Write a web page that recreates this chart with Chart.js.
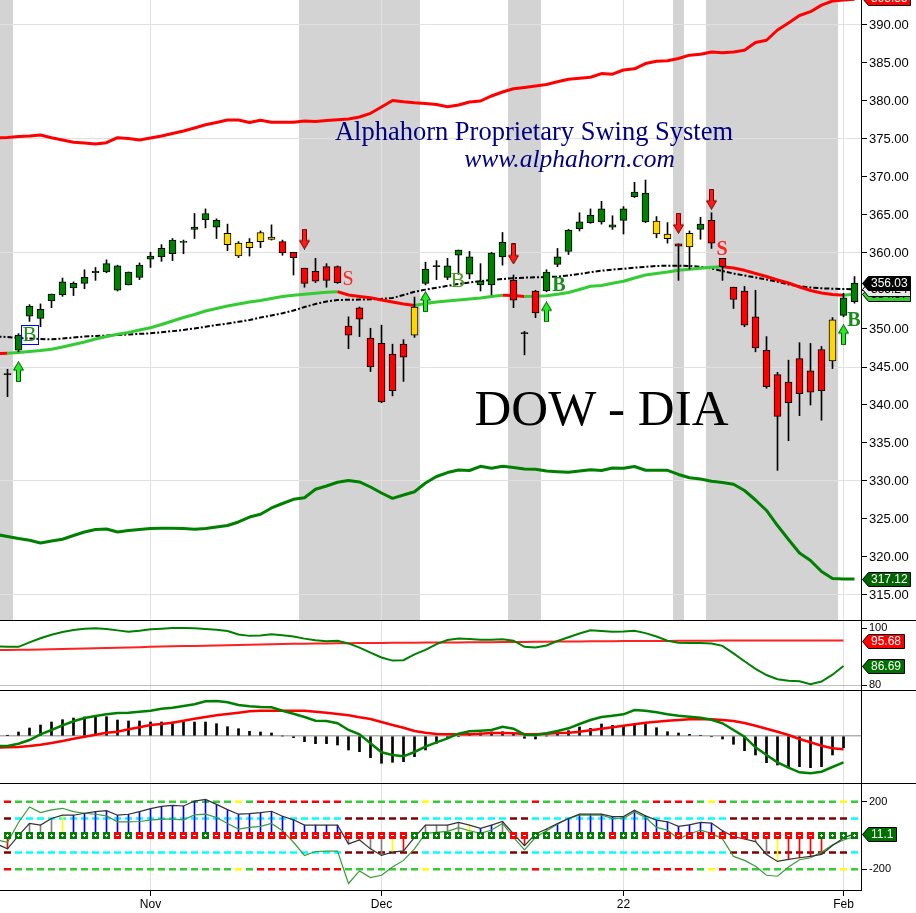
<!DOCTYPE html>
<html><head><meta charset="utf-8">
<script src="https://cdn.jsdelivr.net/npm/chart.js@4.4.1/dist/chart.umd.min.js"></script>
<style>
html,body{margin:0;padding:0;background:#fff;}
#wrap{position:relative;width:916px;height:913px;overflow:hidden;background:#fff;}
#wrap canvas{position:absolute;left:0;}
.txt{position:absolute;white-space:nowrap;text-align:center;width:600px;font-family:"Liberation Serif","Times New Roman",serif;pointer-events:none;z-index:5;}
</style></head><body>
<div id="wrap">
<canvas id="c1" width="916" height="621" style="top:0;width:916px;height:621px"></canvas>
<canvas id="c2" width="916" height="70" style="top:621px;width:916px;height:70px"></canvas>
<canvas id="c3" width="916" height="93" style="top:691px;width:916px;height:93px"></canvas>
<canvas id="c4" width="916" height="129" style="top:784px;width:916px;height:129px"></canvas>
<div class="txt" style="left:234px;top:116px;font-size:26.5px;line-height:30px;color:#000080;">Alphahorn Proprietary Swing System</div>
<div class="txt" style="left:269.5px;top:144.4px;font-size:25.5px;line-height:30px;font-style:italic;color:#000080;">www.alphahorn.com</div>
<div class="txt" style="left:301.5px;top:377.8px;font-size:51px;line-height:60px;color:#000;">DOW - DIA</div>
</div>
<script>
// ---------- DATA (index 0 = one trading day before Oct 13, 2021; index 78 = Feb 2, 2022) ----------
const FIRST_DAY = -1;
const tickDays = [13, 34, 56, 76];
const tickLabels = ['Nov', 'Dec', '22', 'Feb'];

const open = [null, 344.0, 347.2, 351.7, 352.6, 353.7, 354.5, 355.4, 356.0, 357.4, 358.6, 358.3, 355.8, 356.8, 359.2, 359.5, 359.9, 361.4, 363.1, 365.2, 364.3, 362.6, 361.3, 360.7, 361.5, 362.1, 361.5, 360.1, 358.0, 357.6, 358.2, 358.2, 350.4, 352.8, 348.8, 348.1, 346.7, 348.0, 349.2, 356.0, 358.2, 356.8, 359.7, 359.5, 355.8, 355.8, 361.4, 356.4, 349.4, 355.0, 357.5, 358.5, 360.2, 363.2, 364.0, 365.8, 363.7, 364.3, 367.4, 367.9, 364.2, 361.9, 361.2, 360.8, 363.8, 364.3, 359.3, 355.5, 355.0, 351.6, 347.2, 344.0, 343.0, 346.1, 344.5, 341.9, 345.8, 351.8, 353.6];
const high = [null, 344.7, 349.4, 353.2, 353.3, 354.6, 356.7, 356.2, 357.8, 358.1, 359.1, 358.4, 357.5, 358.7, 360.1, 361.1, 361.9, 361.7, 365.2, 365.8, 364.5, 363.8, 361.5, 361.9, 362.9, 363.7, 361.7, 360.1, 358.0, 359.3, 358.6, 358.3, 351.6, 352.9, 350.1, 350.5, 348.0, 348.6, 354.2, 358.8, 359.0, 359.3, 360.4, 360.2, 358.6, 360.1, 362.7, 357.1, 349.7, 355.1, 357.8, 360.6, 363.1, 365.3, 365.8, 366.8, 364.9, 366.1, 369.3, 369.6, 364.8, 364.0, 361.2, 362.9, 364.7, 365.3, 359.3, 355.5, 355.6, 355.1, 349.0, 344.3, 345.9, 348.2, 348.1, 347.7, 351.5, 354.7, 356.9];
const low = [null, 341.1, 347.0, 351.0, 350.3, 352.8, 354.3, 354.4, 355.3, 356.4, 357.4, 355.0, 355.8, 356.5, 358.1, 358.9, 359.0, 359.9, 361.9, 363.3, 361.9, 360.3, 359.4, 359.6, 360.7, 361.7, 359.7, 357.1, 355.5, 356.1, 355.5, 356.0, 347.4, 349.0, 344.4, 340.3, 341.2, 343.1, 348.9, 355.8, 356.5, 356.5, 357.2, 356.6, 355.0, 354.5, 358.4, 352.8, 346.6, 351.5, 354.9, 358.2, 359.8, 362.9, 363.9, 363.8, 363.1, 362.5, 367.3, 364.0, 362.0, 361.3, 356.4, 357.9, 361.8, 360.6, 356.4, 352.7, 350.3, 347.0, 342.2, 331.4, 335.3, 338.6, 340.0, 338.0, 344.8, 351.6, 353.4];
const close = [null, 344.1, 349.2, 353.0, 351.4, 354.6, 356.2, 356.0, 356.8, 357.6, 357.5, 355.1, 357.5, 358.4, 359.6, 360.6, 361.7, 361.5, 363.4, 364.4, 363.4, 361.1, 359.6, 361.4, 362.7, 361.8, 360.0, 359.4, 356.0, 356.3, 356.4, 356.1, 349.2, 351.3, 345.0, 340.4, 341.9, 346.3, 352.9, 357.9, 358.25, 358.3, 360.4, 357.2, 356.3, 360.0, 359.5, 353.8, 349.5, 352.1, 355.0, 359.5, 363.0, 364.1, 365.0, 364.1, 363.4, 365.8, 368.0, 364.1, 362.5, 362.5, 360.9, 362.6, 363.1, 361.3, 358.2, 353.9, 350.5, 347.5, 342.4, 338.5, 340.3, 341.5, 341.7, 347.3, 351.2, 354.1, 356.03];
// candle state: K black, G green, Y yellow, R red
const candleState = "-K" + "GGGGGGGGGGGGGGGGGGG" + "YYYYY" + "RRRRRRRRRRRR" + "YGK" + "GGGGGG" + "RKR" + "GGGGGGGGGG" + "YYRYG" + "RRRRRRRRRRR" + "YGG";
// grey background days
const shade = "11" + "00000000000000000000000000" + "11111111111" + "00000000" + "111" + "000000000000" + "1" + "00" + "111111111111" + "00";

const upperBand = [375.15, 375.20, 375.33, 375.39, 375.53, 375.16, 374.87, 374.57, 374.47, 374.34, 374.51, 375.17, 375.07, 374.87, 375.13, 375.39, 375.72, 376.05, 376.45, 376.87, 377.17, 377.50, 377.50, 377.17, 377.46, 377.20, 377.20, 377.20, 377.37, 377.30, 377.43, 377.54, 377.63, 377.89, 378.38, 379.21, 380.07, 379.89, 379.76, 379.67, 379.54, 379.25, 379.47, 379.87, 380.00, 380.66, 381.18, 381.61, 381.78, 381.97, 382.17, 382.53, 382.86, 382.99, 383.12, 383.61, 383.53, 384.08, 384.24, 384.93, 385.24, 385.30, 385.59, 386.03, 386.14, 386.45, 386.34, 386.45, 386.68, 387.70, 387.99, 389.34, 390.26, 391.25, 391.75, 392.61, 393.16, 393.30, 393.40];
const lowerBand = [322.96, 322.70, 322.43, 322.20, 321.84, 322.11, 322.33, 322.83, 323.29, 323.62, 323.68, 323.29, 323.49, 323.62, 323.75, 323.78, 323.78, 323.75, 323.66, 323.75, 323.95, 324.14, 324.61, 325.26, 325.63, 326.45, 327.04, 327.59, 327.80, 328.91, 329.34, 329.83, 330.07, 329.87, 329.21, 328.42, 327.72, 328.16, 328.59, 329.74, 330.59, 331.11, 331.45, 331.38, 331.93, 331.67, 331.93, 331.78, 331.58, 331.55, 331.32, 331.22, 331.14, 331.32, 331.49, 331.38, 331.71, 331.68, 331.91, 331.41, 331.41, 331.40, 330.86, 330.42, 330.26, 329.96, 329.80, 329.58, 328.75, 327.50, 326.12, 324.14, 322.30, 320.53, 319.54, 318.09, 317.17, 317.11, 317.12];
const midAvg = [346.78, 346.80, 346.91, 347.04, 347.17, 347.34, 347.63, 347.96, 348.29, 348.68, 349.01, 349.30, 349.54, 349.87, 350.17, 350.59, 351.05, 351.51, 351.91, 352.37, 352.70, 353.03, 353.29, 353.55, 353.75, 354.01, 354.28, 354.43, 354.57, 354.70, 354.83, 354.91, 354.47, 354.28, 354.12, 353.82, 353.55, 353.29, 353.09, 353.36, 353.55, 353.68, 353.82, 353.95, 354.08, 354.28, 354.43, 354.41, 354.28, 354.30, 354.38, 354.57, 354.80, 355.20, 355.62, 355.72, 356.01, 356.28, 356.71, 357.11, 357.30, 357.50, 357.72, 357.86, 357.99, 358.12, 358.20, 358.03, 357.72, 357.30, 356.91, 356.45, 356.05, 355.53, 355.07, 354.74, 354.54, 354.43, 354.57];
const maState = "R" + "GGGGGGGGGGGGGGGGGGGGGGGGGGGGGG" + "RRRRRRR" + "GGGGGGGG" + "RR" + "GGGGGGGGGGGGGGGGGG" + "RRRRRRRRRRR" + "GG";
const slowAvg = [349.01, 348.95, 348.82, 348.75, 348.68, 348.64, 348.75, 348.88, 349.00, 349.08, 349.14, 349.21, 349.29, 349.36, 349.43, 349.58, 349.72, 349.87, 350.07, 350.29, 350.53, 350.72, 350.95, 351.18, 351.51, 351.78, 352.07, 352.43, 352.89, 353.29, 353.62, 353.82, 353.84, 353.87, 353.91, 353.97, 354.08, 354.47, 354.89, 355.18, 355.43, 355.68, 355.92, 356.12, 356.29, 356.45, 356.58, 356.68, 356.76, 356.80, 356.84, 356.88, 357.04, 357.24, 357.47, 357.67, 357.82, 357.93, 358.07, 358.18, 358.29, 358.33, 358.32, 358.29, 358.18, 357.96, 357.63, 357.30, 357.04, 356.78, 356.51, 356.21, 355.86, 355.62, 355.46, 355.36, 355.30, 355.26, 355.24];

const buySignals = [{day: 1, price: 344.38}, {day: 38, price: 353.59}, {day: 49, price: 352.24}, {day: 76, price: 349.25}];
const sellSignals = [{day: 27, price: 361.84}, {day: 46, price: 359.87}, {day: 61, price: 363.91}, {day: 64, price: 367.08}];
const signalLetters = [
  {day: 2.0, price: 349.34, text: 'B'}, {day: 30.95, price: 356.64, text: 'S'},
  {day: 40.95, price: 356.45, text: 'B'}, {day: 50.14, price: 355.86, text: 'B'},
  {day: 64.95, price: 360.66, text: 'S'}, {day: 76.95, price: 351.32, text: 'B'}];

// panel 2
const oscFast = [93.58, 93.46, 93.46, 95.03, 96.49, 97.70, 98.67, 99.39, 99.88, 100.0, 99.76, 99.27, 98.79, 99.15, 99.64, 99.88, 100.12, 100.12, 100.0, 99.76, 99.52, 99.03, 97.82, 97.33, 97.45, 97.94, 97.58, 97.09, 96.36, 95.76, 95.39, 95.64, 94.67, 93.21, 91.39, 89.70, 88.61, 88.73, 90.79, 92.36, 94.42, 95.88, 96.36, 96.24, 96.0, 96.0, 96.12, 95.64, 93.46, 93.21, 93.94, 95.52, 96.85, 98.18, 99.27, 99.03, 98.79, 98.91, 99.15, 98.30, 97.09, 95.64, 94.91, 94.79, 94.79, 94.67, 93.82, 91.15, 88.36, 85.70, 83.52, 82.06, 81.46, 81.33, 80.24, 81.21, 83.64, 86.69, null];
const oscSlow = [92.35, 92.38, 92.42, 92.46, 92.50, 92.58, 92.70, 92.80, 92.90, 93.00, 93.08, 93.18, 93.25, 93.35, 93.45, 93.55, 93.65, 93.72, 93.80, 93.88, 93.95, 94.05, 94.12, 94.22, 94.30, 94.38, 94.45, 94.52, 94.58, 94.62, 94.68, 94.72, 94.76, 94.80, 94.82, 94.85, 94.88, 94.90, 94.92, 94.95, 94.98, 95.00, 95.03, 95.06, 95.08, 95.10, 95.13, 95.16, 95.20, 95.24, 95.27, 95.30, 95.33, 95.36, 95.40, 95.43, 95.46, 95.48, 95.50, 95.52, 95.54, 95.56, 95.58, 95.60, 95.62, 95.64, 95.66, 95.68, 95.68, 95.68, 95.68, 95.68, 95.68, 95.68, 95.68, 95.68, 95.68, 95.68, null];

// panel 3
const macdHist = [null, 0.05, 0.40, 0.80, 1.10, 1.40, 1.63, 1.80, 1.90, 1.93, 1.93, 1.60, 1.50, 1.50, 1.40, 1.40, 1.40, 1.40, 1.40, 1.40, 1.23, 0.93, 0.73, 0.47, 0.40, 0.30, 0.0, -0.17, -0.57, -0.77, -0.77, -0.90, -1.40, -1.57, -2.17, -2.73, -2.63, -2.57, -2.07, -1.40, -0.73, -0.23, -0.07, 0.27, 0.30, 0.40, 0.43, 0.33, -0.23, -0.30, 0.0, 0.43, 0.53, 0.90, 0.77, 1.20, 1.07, 1.03, 1.27, 1.20, 0.83, 0.43, 0.30, 0.17, 0.07, -0.07, -0.30, -0.83, -1.47, -1.90, -2.67, -2.90, -3.13, -3.07, -3.17, -3.07, -1.90, -1.17, null];
const macdLine = [-1.00, -1.00, -0.77, -0.40, 0.17, 0.60, 1.07, 1.47, 1.80, 2.00, 2.17, 2.30, 2.33, 2.43, 2.53, 2.73, 2.83, 3.00, 3.17, 3.47, 3.50, 3.37, 3.10, 2.97, 2.90, 2.87, 2.53, 2.23, 1.90, 1.53, 1.50, 1.27, 0.60, 0.17, -0.73, -1.63, -1.90, -2.03, -1.60, -1.07, -0.63, -0.23, 0.23, 0.47, 0.53, 0.60, 0.93, 0.73, 0.13, 0.10, 0.27, 0.50, 0.77, 1.20, 1.60, 1.90, 2.03, 2.17, 2.60, 2.53, 2.37, 2.17, 2.03, 1.93, 1.83, 1.63, 1.27, 0.60, -0.07, -1.13, -1.90, -2.63, -3.17, -3.63, -3.73, -3.57, -3.10, -2.63, null];
const signalLine = [-1.17, -1.13, -1.10, -1.00, -0.87, -0.70, -0.50, -0.27, -0.07, 0.13, 0.33, 0.43, 0.67, 0.87, 1.10, 1.20, 1.33, 1.53, 1.73, 1.90, 2.07, 2.20, 2.33, 2.47, 2.53, 2.53, 2.53, 2.53, 2.53, 2.43, 2.33, 2.20, 2.07, 1.87, 1.70, 1.40, 1.10, 0.83, 0.50, 0.33, 0.20, 0.17, 0.17, 0.17, 0.23, 0.30, 0.30, 0.27, 0.20, 0.17, 0.23, 0.30, 0.33, 0.43, 0.57, 0.73, 0.87, 1.03, 1.17, 1.33, 1.43, 1.53, 1.60, 1.67, 1.70, 1.67, 1.60, 1.50, 1.30, 1.03, 0.73, 0.43, 0.10, -0.30, -0.63, -0.97, -1.23, -1.33, null];

// panel 4
const cci = [-50, -79.0, -1.0, 71.2, 61.5, 100.5, 120.0, 120.0, 131.7, 141.5, 147.3, 120.0, 125.9, 141.5, 159.0, 172.7, 178.5, 174.6, 203.9, 213.7, 184.4, 153.2, 125.9, 129.8, 135.6, 143.4, 114.1, 92.7, 61.5, 61.5, 61.5, 61.5, -49.8, -26.3, -79.0, -118.0, -98.5, -90.7, -10.7, 61.5, 61.5, 61.5, 77.1, 61.5, 42.0, 61.5, 82.9, 8.8, -59.5, 8.8, 38.0, 71.2, 100.5, 125.9, 125.9, 125.9, 112.2, 112.2, 149.3, 116.1, 90.7, 81.0, 53.7, 63.4, 77.1, 73.2, 28.3, -6.8, -20.5, -36.1, -112.2, -153.2, -141.5, -131.7, -123.9, -112.2, -59.5, -15.0, 11.1];
const cciSmooth = [-25, -40.0, 77.1, 168.8, 135.6, 151.2, 161.0, 141.5, 131.7, 125.9, 116.1, 81.0, 81.0, 82.9, 90.7, 96.6, 96.6, 92.7, 122.0, 125.9, 106.3, 71.2, 38.0, 47.8, 53.7, 71.2, 28.3, -40.0, -118.0, -94.6, -92.7, -92.7, -283.9, -209.8, -248.8, -235.1, -186.3, -147.3, -79.0, 12.7, 18.5, 24.4, 45.9, 28.3, 12.7, 32.2, 71.2, -10.7, -84.9, -10.7, 28.3, 67.3, 100.5, 120.0, 120.0, 120.0, 100.5, 102.4, 139.5, 106.3, 47.8, 32.2, -20.5, 8.8, 32.2, 12.7, -20.5, -123.9, -147.3, -182.4, -235.1, -241.0, -186.3, -143.4, -131.7, -98.5, -55.6, -26.3, -6.8];
const cciLevels = [200, 100, -100, -200];
// A grey, B blue, Y yellow, R red, - none
const stemState = "-R-AAAY" + "BBBBBBBBBBBBBBBBBBBBBBBBB" + "AAAAYR-" + "AAAAYBBABRAA" + "BBBBBBBBBBBBBBBB" + "-AAAYRRRR---";
const markerState = "-" + "GGGGGGGGGG" + "RG" + "RRRRRR" + "G" + "RRRRRRRRRRRRRRRRRR" + "GGGGGGGGG" + "RR" + "GGGGGGG" + "R" + "GG" + "RRRRRRRRRRRRRRRR" + "GGGG";
const outerLevelState = "RR" + "GGGGGGGGGGGGGGGGGGGG" + "YG" + "RRRRRRRR" + "GGGGGGG" + "Y" + "GGGGGGGGG" + "R" + "GGGGGGGGGG" + "RRRR" + "GYR" + "GGGGGGGGGG" + "YG";
const innerLevelState = "MM" + "CCCCCCCCCCCCCCCCCCCCCCCCCCCCCC" + "MMMMMMM" + "CCCCCCCC" + "MM" + "CCCCCCCCCCCCCCCCCC" + "MMMMMMMMMMM" + "C";

// ---------- sanity check ----------
const N = 79, bad = [];
Object.entries({open, high, low, close, candleState, shade, upperBand, lowerBand, midAvg, maState, slowAvg, oscFast, oscSlow, macdHist, macdLine, signalLine, cci, cciSmooth, stemState, markerState, outerLevelState, innerLevelState})
  .forEach(([k, a]) => { if (a.length !== N) bad.push(k + '=' + a.length); });
if (bad.length) document.getElementById('wrap').insertAdjacentHTML('beforeend', '<div style="position:absolute;z-index:20;top:420px;left:20px;color:#f0f;font:bold 16px sans-serif">LEN ' + bad.join(', ') + '</div>');

// ---------- styling ----------
const COL = {green: '#008000', lime: '#33cc33', red: '#ff0000', yellow: '#ffd700', grid: '#e0e0e0', shade: '#d3d3d3'};
const CANDLE = {K: '#000000', G: '#008000', Y: '#ffd700', R: '#ff0000'};
const STEM = {A: '#808080', B: '#0000ff', Y: '#ffff00', R: '#ff0000'};
const LEVEL = {G: '#33cc33', R: '#ff0000', Y: '#ffff00', M: '#800000', C: '#00ffff'};
const SANS = '"Liberation Sans", Arial, sans-serif';
const SERIF = '"Liberation Serif", "Times New Roman", serif';
const X_MIN = -7.5 / 11, X_MAX = X_MIN + 861 / 11;
const dayOf = i => i + FIRST_DAY;
const pts = arr => arr.map((v, i) => ({x: dayOf(i), y: v}));

function xScale(show) {
  return {
    type: 'linear', min: X_MIN, max: X_MAX, offset: false,
    afterBuildTicks: s => { s.ticks = tickDays.map(v => ({value: v})); },
    afterFit: s => { s.height = show ? 23 : 0; s.paddingLeft = 0; s.paddingRight = 0; },
    grid: {color: COL.grid, lineWidth: 1, offset: false, drawTicks: show, tickLength: 6, tickColor: '#000'},
    border: {display: show, color: '#000', width: 1},
    ticks: {display: show, autoSkip: false, maxRotation: 0, padding: 1, color: '#000', font: {family: SANS, size: 12},
      callback: v => { const k = tickDays.indexOf(v); return k < 0 ? '' : tickLabels[k]; }}
  };
}
function yScale(o) {
  return {
    type: 'linear', position: 'right', min: o.min, max: o.max,
    afterBuildTicks: s => { s.ticks = o.ticks.map(v => ({value: v})); },
    afterFit: s => { s.width = 55; s.paddingTop = 0; s.paddingBottom = 0; },
    grid: {color: c => o.gridColor(c.tick ? c.tick.value : null), lineWidth: o.gridWidth || 1, drawTicks: o.drawTicks !== false, tickLength: 6, tickColor: '#000', tickWidth: 1},
    border: {display: true, color: '#000', width: 1},
    ticks: {display: o.labels !== false, padding: 2, color: '#000', font: {family: SANS, size: o.fontSize || 11}, callback: o.fmt || (v => String(v))}
  };
}
function baseOptions(scales) {
  return {responsive: false, animation: false, devicePixelRatio: 1, events: [],
    layout: {padding: 0, autoPadding: false},
    plugins: {legend: {display: false}, tooltip: {enabled: false}, title: {display: false}},
    scales};
}
const separator = {id: 'separator', afterDraw(chart) {
  const {ctx, chartArea: a, width} = chart;
  ctx.save(); ctx.strokeStyle = '#000'; ctx.lineWidth = 1;
  ctx.beginPath(); ctx.moveTo(0, a.bottom - 0.5); ctx.lineTo(width, a.bottom - 0.5); ctx.stroke(); ctx.restore();
}};
function tagPlugin(list) {
  return {id: 'tags', afterDraw(chart) {
    const {ctx, chartArea: a, scales: {y}} = chart;
    ctx.save(); ctx.font = '12px ' + SANS; ctx.textBaseline = 'middle'; ctx.textAlign = 'left';
    for (const t of list) {
      const py = Math.round(y.getPixelForValue(t.value)) + 0.5;
      const tw = ctx.measureText(t.text).width;
      const x0 = a.right + 1.5, x1 = x0 + 6, x2 = Math.round(x1 + tw + 5) + 0.5, h = 7;
      ctx.beginPath(); ctx.moveTo(x0, py); ctx.lineTo(x1, py - h); ctx.lineTo(x2, py - h); ctx.lineTo(x2, py + h); ctx.lineTo(x1, py + h); ctx.closePath();
      ctx.fillStyle = t.bg; ctx.fill(); ctx.strokeStyle = '#000'; ctx.lineWidth = 1; ctx.stroke();
      ctx.fillStyle = t.fg; ctx.fillText(t.text, x1 + 2.5, py + 0.5);
    }
    ctx.restore();
  }};
}
const shadePlugin = {id: 'shade', beforeDraw(chart) {
  const {ctx, chartArea: a, scales: {x}} = chart;
  ctx.save(); ctx.fillStyle = COL.shade;
  let i = 0;
  while (i < shade.length) {
    if (shade[i] === '1') {
      let j = i; while (j + 1 < shade.length && shade[j + 1] === '1') j++;
      const x0 = Math.max(a.left, Math.round(x.getPixelForValue(dayOf(i) - 0.5)));
      const x1 = Math.min(a.right, Math.round(x.getPixelForValue(dayOf(j) + 0.5)));
      ctx.fillRect(x0, a.top, x1 - x0, a.bottom - a.top);
      i = j + 1;
    } else i++;
  }
  ctx.restore();
}};
const letterLook = [
  {size: 21, weight: '', color: '#1e8c1e', box: true},
  {size: 20, weight: '', color: '#ff2020'},
  {size: 22, weight: '', color: '#4a9a20'},
  {size: 20, weight: 'bold ', color: '#1a8a1a'},
  {size: 20, weight: 'bold ', color: '#ff2020'},
  {size: 20, weight: 'bold ', color: '#1a8a1a'}];
const letterPlugin = {id: 'letters', afterDatasetsDraw(chart) {
  const {ctx, scales: {x, y}} = chart;
  ctx.save(); ctx.textAlign = 'center'; ctx.textBaseline = 'alphabetic';
  signalLetters.forEach((L, k) => {
    const st = letterLook[k];
    const px = x.getPixelForValue(L.day), py = y.getPixelForValue(L.price);
    ctx.font = st.weight + st.size + 'px ' + SERIF;
    ctx.fillStyle = st.color;
    ctx.fillText(L.text, px, py + st.size * 0.33);
    if (st.box) { ctx.strokeStyle = '#0000ff'; ctx.lineWidth = 1; ctx.strokeRect(Math.round(px - 8.5) + 0.5, Math.round(py - 9.5) + 0.5, 17, 19); }
  });
  ctx.restore();
}};
function arrowImg(up, fill, stroke) {
  const w = 11, h = 21, c = document.createElement('canvas'); c.width = w; c.height = h;
  const g = c.getContext('2d');
  const P = [[5.5, 0.5], [10.5, 9], [7.5, 9], [7.5, 20.5], [3.5, 20.5], [3.5, 9], [0.5, 9]];
  g.beginPath();
  P.forEach(([px, py], i) => { const yy = up ? py : h - py; if (i) g.lineTo(px, yy); else g.moveTo(px, yy); });
  g.closePath(); g.fillStyle = fill; g.fill(); g.strokeStyle = stroke; g.lineWidth = 1; g.stroke();
  return c;
}
function markerImg(bg, plus) {
  const c = document.createElement('canvas'); c.width = 7; c.height = 7;
  const g = c.getContext('2d'); g.fillStyle = bg; g.fillRect(0, 0, 7, 7);
  g.fillStyle = '#fff'; g.fillRect(2, 3, 3, 1); if (plus) g.fillRect(3, 2, 1, 3);
  return c;
}

// ---------- main price panel ----------
const wickPts = [], bodyPts = [], bodyFill = [];
open.forEach((o, i) => {
  if (o === null) return;
  wickPts.push({x: dayOf(i), y: [low[i], high[i]]});
  bodyPts.push({x: dayOf(i), y: [o, close[i]]});
  bodyFill.push(CANDLE[candleState[i]]);
});
const upArrow = arrowImg(true, '#22ee22', '#005000');
const downArrow = arrowImg(false, '#ff1a1a', '#700000');

new Chart(document.getElementById('c1'), {
  type: 'line',
  data: {datasets: [
    {data: pts(upperBand), borderColor: COL.red, borderWidth: 3, pointRadius: 0, order: 9, borderJoinStyle: 'round'},
    {data: pts(lowerBand), borderColor: COL.green, borderWidth: 3, pointRadius: 0, order: 9, borderJoinStyle: 'round'},
    {data: pts(slowAvg), borderColor: '#000', borderWidth: 2, borderDash: [5, 2, 2, 2], pointRadius: 0, order: 8},
    {data: pts(midAvg), borderColor: COL.lime, borderWidth: 3, pointRadius: 0, order: 7, borderJoinStyle: 'round',
      segment: {borderColor: c => maState[c.p0DataIndex] === 'R' ? COL.red : COL.lime}},
    {type: 'bar', data: wickPts, backgroundColor: '#000', barThickness: 1, grouped: false, order: 5},
    {type: 'bar', data: bodyPts, backgroundColor: bodyFill, borderColor: '#000', borderWidth: 1, borderSkipped: false,
      barThickness: 7, minBarLength: 1, grouped: false, order: 4},
    {data: buySignals.map(s => ({x: s.day, y: s.price})), showLine: false, pointStyle: upArrow, pointRadius: 5, order: 2},
    {data: sellSignals.map(s => ({x: s.day, y: s.price})), showLine: false, pointStyle: downArrow, pointRadius: 5, order: 2}
  ]},
  options: baseOptions({
    x: xScale(false),
    y: yScale({min: 390 - 596 / 7.6, max: 390 + 25 / 7.6, ticks: [315, 320, 325, 330, 335, 340, 345, 350, 355, 360, 365, 370, 375, 380, 385, 390],
      gridColor: v => (v !== null && v % 15 === 0) ? COL.grid : 'rgba(0,0,0,0)', fontSize: 13, fmt: v => v.toFixed(2)})
  }),
  plugins: [shadePlugin, letterPlugin, separator, tagPlugin([
    {value: 393.55, text: '393.55', bg: '#ff0000', fg: '#fff'},
    {value: 354.57, text: '354.57', bg: '#33cc33', fg: '#000'},
    {value: 355.24, text: '355.24', bg: '#e8e8e8', fg: '#000'},
    {value: 356.03, text: '356.03', bg: '#000', fg: '#fff'},
    {value: 317.12, text: '317.12', bg: '#006400', fg: '#fff'}])]
});

// ---------- panel 2 ----------
new Chart(document.getElementById('c2'), {
  type: 'line',
  data: {datasets: [
    {data: pts(oscSlow), borderColor: '#ff2020', borderWidth: 2, pointRadius: 0, order: 6},
    {data: pts(oscFast), borderColor: COL.green, borderWidth: 2, pointRadius: 0, order: 5}
  ]},
  options: baseOptions({
    x: xScale(false),
    y: yScale({min: 100 - 62.7 / 2.835, max: 100 + 7.3 / 2.835, ticks: [80, 100],
      gridColor: v => v === 80 ? '#c0c0c0' : 'rgba(0,0,0,0)', fontSize: 11})
  }),
  plugins: [separator, tagPlugin([
    {value: 95.68, text: '95.68', bg: '#ff0000', fg: '#fff'},
    {value: 86.69, text: '86.69', bg: '#007000', fg: '#fff'}])]
});

// ---------- panel 3 ----------
new Chart(document.getElementById('c3'), {
  type: 'line',
  data: {datasets: [
    {type: 'bar', data: pts(macdHist).filter(p => p.y !== null), backgroundColor: '#000', barThickness: 2, grouped: false, order: 8},
    {data: pts(signalLine), borderColor: COL.red, borderWidth: 2.5, pointRadius: 0, order: 6},
    {data: pts(macdLine), borderColor: COL.green, borderWidth: 2.5, pointRadius: 0, order: 5}
  ]},
  options: baseOptions({
    x: xScale(false),
    y: yScale({min: -4.8, max: 4.5, ticks: [0], gridColor: v => v === 0 ? '#b0b0b0' : 'rgba(0,0,0,0)', gridWidth: 1.5, drawTicks: false, labels: false})
  }),
  plugins: [separator]
});

// ---------- panel 4 ----------
function levelDataset(level, states) {
  const data = [];
  for (let i = 0; i <= states.length; i++) data.push({x: dayOf(i) - 0.5, y: level});
  return {data, borderColor: LEVEL[states[1]], borderWidth: 2.5, borderDash: [7, 4], borderDashOffset: 9, pointRadius: 0, order: 9,
    segment: {borderColor: c => LEVEL[states[Math.min(c.p0DataIndex, states.length - 1)]]}};
}
const stemPts = [], stemCols = [];
cci.forEach((v, i) => { if (stemState[i] !== '-') { stemPts.push({x: dayOf(i), y: v}); stemCols.push(STEM[stemState[i]]); } });
const markPts = [], markStyles = [];
const plusImg = markerImg('#008000', true), minusImg = markerImg('#ff0000', false);
for (let i = 0; i < markerState.length; i++) {
  if (markerState[i] === '-') continue;
  markPts.push({x: dayOf(i), y: 0});
  markStyles.push(markerState[i] === 'G' ? plusImg : minusImg);
}
new Chart(document.getElementById('c4'), {
  type: 'line',
  data: {datasets: [
    levelDataset(cciLevels[0], outerLevelState),
    levelDataset(cciLevels[1], innerLevelState),
    levelDataset(cciLevels[2], innerLevelState),
    levelDataset(cciLevels[3], outerLevelState),
    {type: 'bar', data: stemPts, backgroundColor: stemCols, barThickness: 1, grouped: false, order: 7},
    {data: pts(cciSmooth), borderColor: '#3a9a3a', borderWidth: 1.2, pointRadius: 0, order: 6},
    {data: pts(cci), borderColor: '#333', borderWidth: 1.2, pointRadius: 0, order: 5},
    {data: markPts, showLine: false, pointStyle: markStyles, pointRadius: 4, order: 2}
  ]},
  options: baseOptions({
    x: xScale(true),
    y: yScale({min: -54.5 / 0.169, max: 51.5 / 0.169, ticks: [-200, 200], gridColor: () => 'rgba(0,0,0,0)', fontSize: 11})
  }),
  plugins: [tagPlugin([{value: 11.1, text: '11.1', bg: '#007000', fg: '#fff'}])]
});
</script>
</body></html>
